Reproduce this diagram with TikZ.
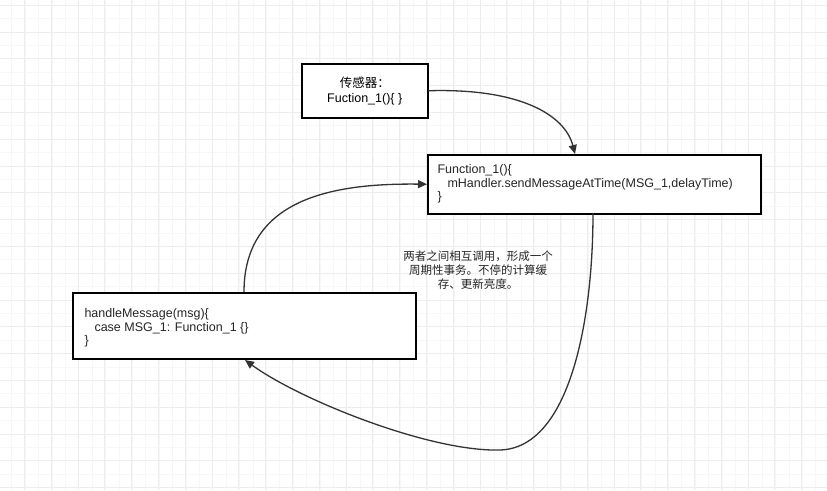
\documentclass[tikz,border=0pt]{standalone}
\usepackage{fontspec}
\setmainfont{Liberation Sans}
\newfontfamily\cjk{Noto Sans CJK SC}
\usetikzlibrary{arrows.meta}
\begin{document}
\begin{tikzpicture}[x=1pt,y=-1pt,
  box/.style={draw=black,line width=1.5pt,fill=white,inner sep=0pt},
  conn/.style={draw=black!80,line width=1.3pt,-{Triangle[length=9pt,width=8pt]}},
  txt/.style={font=\fontsize{12.5}{13.5}\selectfont,text=black!85,align=left}]
\useasboundingbox (0,0) rectangle (827,490);
\fill[white] (0,0) rectangle (827,490);
\foreach \i in {0,...,61} {
  \draw[black!3,line width=0.6pt] ({11.7+13.4*\i},0) -- ({11.7+13.4*\i},490);}
\foreach \i in {0,...,36} {
  \draw[black!3,line width=0.6pt] (0,{5+13.4*\i}) -- (827,{5+13.4*\i});}
\foreach \i in {0,...,30} {
  \draw[black!7,line width=0.6pt] ({24.3+26.8*\i},0) -- ({24.3+26.8*\i},490);}
\foreach \i in {0,...,18} {
  \draw[black!7,line width=0.6pt] (0,{5+26.8*\i}) -- (827,{5+26.8*\i});}
\node[box,minimum width=126pt,minimum height=54pt,anchor=north west,
  font=\fontsize{12.5}{15}\selectfont,align=center] (s) at (301,63)
  {{\cjk 传感器：}\\Fuction\_1()\{ \}};
\node[box,minimum width=333pt,minimum height=59pt,anchor=north west] (f) at (427,154) {};
\node[txt,anchor=north west] (ft) at (434,161) {Function\_1()\{\\\hspace{10pt}mHandler.sendMessageAtTime(MSG\_1,delayTime)\\\}};
\node[box,minimum width=343pt,minimum height=66pt,anchor=north west] (h) at (72,292) {};
\node[txt,anchor=north west] (ht) at (81,305) {handleMessage(msg)\{\\\hspace{10pt}case MSG\_1: Function\_1 \{\}\\\}};
\node[font=\cjk\fontsize{11.5}{14}\selectfont,align=center,text=black!85] (l) at (478,270)
  {两者之间相互调用，形成一个\\周期性事务。不停的计算缓\\存、更新亮度。};
\coordinate (f1) at (575,154);
\coordinate (f2) at (593,213);
\coordinate (h1) at (244,292);
\coordinate (h2) at (245,360);
\draw[conn] (s.east) .. controls (520,88) and (565,115) .. (f1);
\draw[conn] (h1) .. controls (244,200) and (330,183) .. (f.west);
\draw[conn] (f2) .. controls (593,320) and (570,448) .. (500,450)
  .. controls (430,452) and (300,400) .. (h2);
\end{tikzpicture}
\end{document}
